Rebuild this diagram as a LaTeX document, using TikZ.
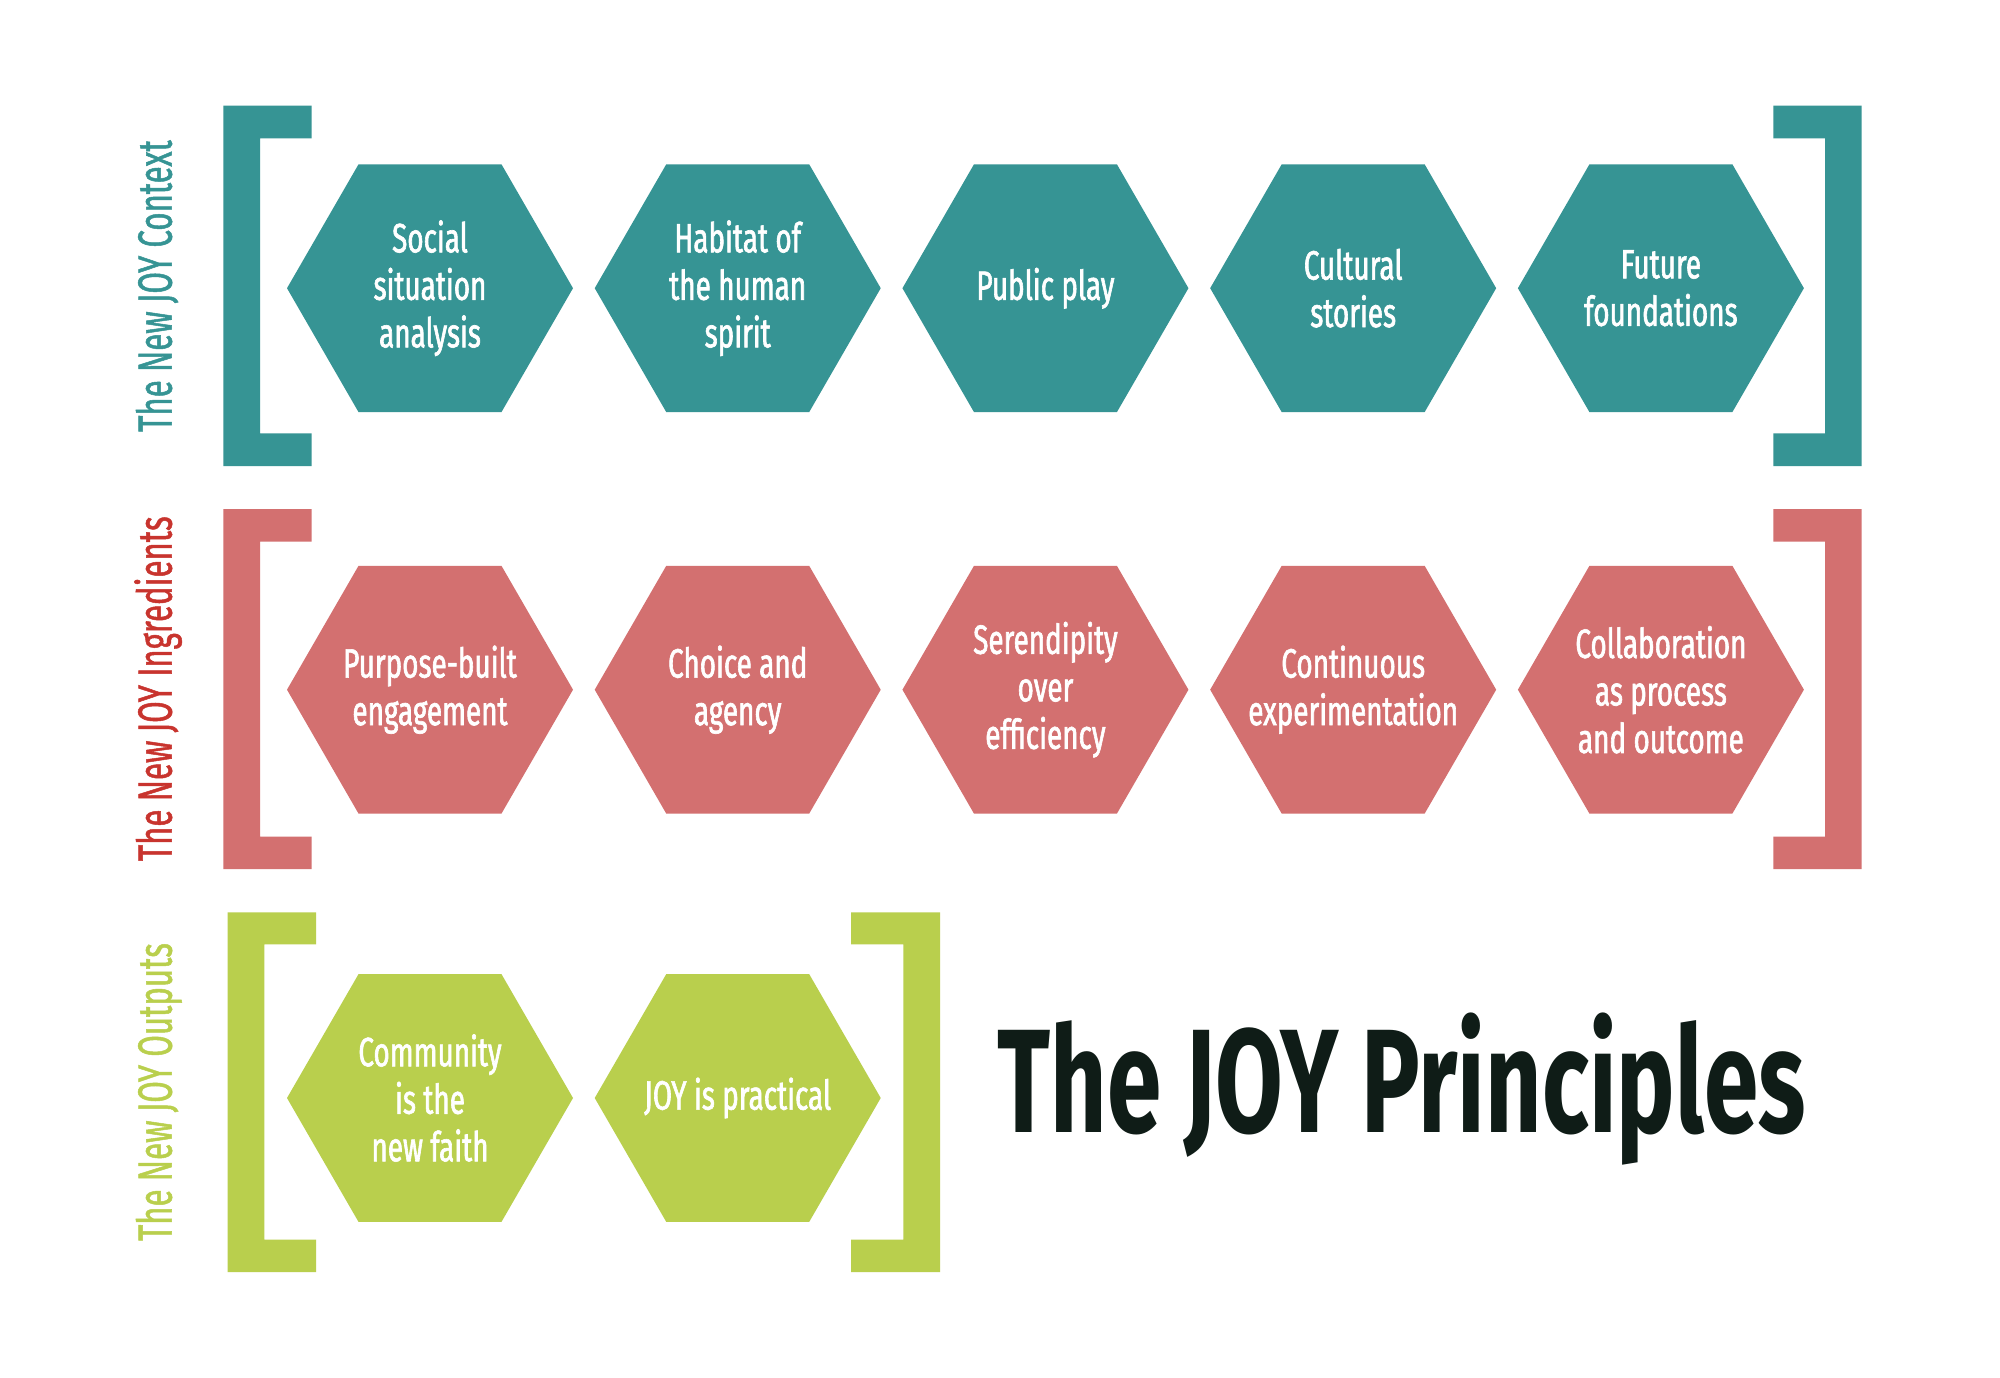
\documentclass[tikz,border=0pt]{standalone}
\usepackage{fontspec}
\usepackage{tikz}
\usetikzlibrary{shapes.geometric,positioning}
\newfontfamily\joyfont{Fira Sans}[FakeStretch=0.68, FakeBold=1.5]
\newfontfamily\sidefont{Fira Sans}[FakeStretch=0.65, FakeBold=1]
\newfontfamily\titlefont{Fira Sans}[FakeStretch=0.665]
\definecolor{joyteal}{RGB}{54,148,148}
\definecolor{joyrose}{RGB}{211,112,112}
\definecolor{joylime}{RGB}{185,207,77}
\definecolor{joyred}{RGB}{200,52,46}
\definecolor{joyink}{RGB}{15,28,23}

\begin{document}
\begin{tikzpicture}[x = 1pt, y = -1pt,
  hexbox/.style = {shape = regular polygon, regular polygon sides = 6, minimum size = 286pt, inner sep = 0pt},
  hextext/.style = {inner sep = 0pt, text = white, align = center, font = \joyfont\fontsize{41}{47.5}\selectfont},
  rowlabel/.style = {rotate = 90, anchor = base, inner sep = 0pt, font = \sidefont\fontsize{48}{48}\selectfont},
  node distance = 21.25pt]
\useasboundingbox (0,0) rectangle (2000,1378);
\fill[white] (0,0) rectangle (2000,1378);

% brackets
\fill[joyteal] (311.7,105.7) -- (223.3,105.7) -- (223.3,466) -- (311.7,466) -- (311.7,433.3) -- (260,433.3) -- (260,138.3) -- (311.7,138.3) -- cycle;
\fill[joyteal] (1773.3,105.7) -- (1861.7,105.7) -- (1861.7,466) -- (1773.3,466) -- (1773.3,433.3) -- (1825,433.3) -- (1825,138.3) -- (1773.3,138.3) -- cycle;
\fill[joyrose] (311.7,509) -- (223.3,509) -- (223.3,869) -- (311.7,869) -- (311.7,836.7) -- (260,836.7) -- (260,541.7) -- (311.7,541.7) -- cycle;
\fill[joyrose] (1773.3,509) -- (1861.7,509) -- (1861.7,869) -- (1773.3,869) -- (1773.3,836.7) -- (1825,836.7) -- (1825,541.7) -- (1773.3,541.7) -- cycle;
\fill[joylime] (316,912.3) -- (227.7,912.3) -- (227.7,1272) -- (316,1272) -- (316,1239.5) -- (264.3,1239.5) -- (264.3,944.3) -- (316,944.3) -- cycle;
\fill[joylime] (851,912.3) -- (940,912.3) -- (940,1272) -- (851,1272) -- (851,1239.5) -- (903.3,1239.5) -- (903.3,944.3) -- (851,944.3) -- cycle;

% context
\node[hexbox, fill = joyteal] (11) at (430,288.2) {};
\node[hexbox, fill = joyteal, right = of 11] (12) {};
\node[hexbox, fill = joyteal, right = of 12] (13) {};
\node[hexbox, fill = joyteal, right = of 13] (14) {};
\node[hexbox, fill = joyteal, right = of 14] (15) {};
\node[hextext] (11t) at (11) {Social\\situation\\analysis};
\node[hextext] (12t) at (12) {Habitat of\\the human\\spirit};
\node[hextext] (13t) at (13) {Public play};
\node[hextext] (14t) at (14) {Cultural\\stories};
\node[hextext] (15t) at (15) {Future\\foundations};

% ingredients
\node[hexbox, fill = joyrose] (21) at (430,689.7) {};
\node[hexbox, fill = joyrose, right = of 21] (22) {};
\node[hexbox, fill = joyrose, right = of 22] (23) {};
\node[hexbox, fill = joyrose, right = of 23] (24) {};
\node[hexbox, fill = joyrose, right = of 24] (25) {};
\node[hextext] (21t) at (21) {Purpose-built\\engagement};
\node[hextext] (22t) at (22) {Choice and\\agency};
\node[hextext] (23t) at (23) {Serendipity\\over\\efficiency};
\node[hextext] (24t) at (24) {Continuous\\experimentation};
\node[hextext] (25t) at (25) {Collaboration\\as process\\and outcome};

% outputs
\node[hexbox, fill = joylime] (31) at (430,1098) {};
\node[hexbox, fill = joylime, right = of 31] (32) {};
\node[hextext] (31t) at (31) {Community\\is the\\new faith};
\node[hextext] (32t) at (32) {JOY is practical};

\node[rowlabel, text = joyteal] (context) at (171.7,286) {The New JOY Context};
\node[rowlabel, text = joyred] (ingredients) at (171.7,688.7) {The New JOY Ingredients};
\node[rowlabel, text = joylime] (outputs) at (171.7,1092) {The New JOY Outputs};

\node[anchor = base west, inner sep = 0pt, text = joyink, font = \titlefont\bfseries\fontsize{147.5}{150}\selectfont] (title) at (997.7,1132.3) {The JOY Principles};
\end{tikzpicture}
\end{document}
